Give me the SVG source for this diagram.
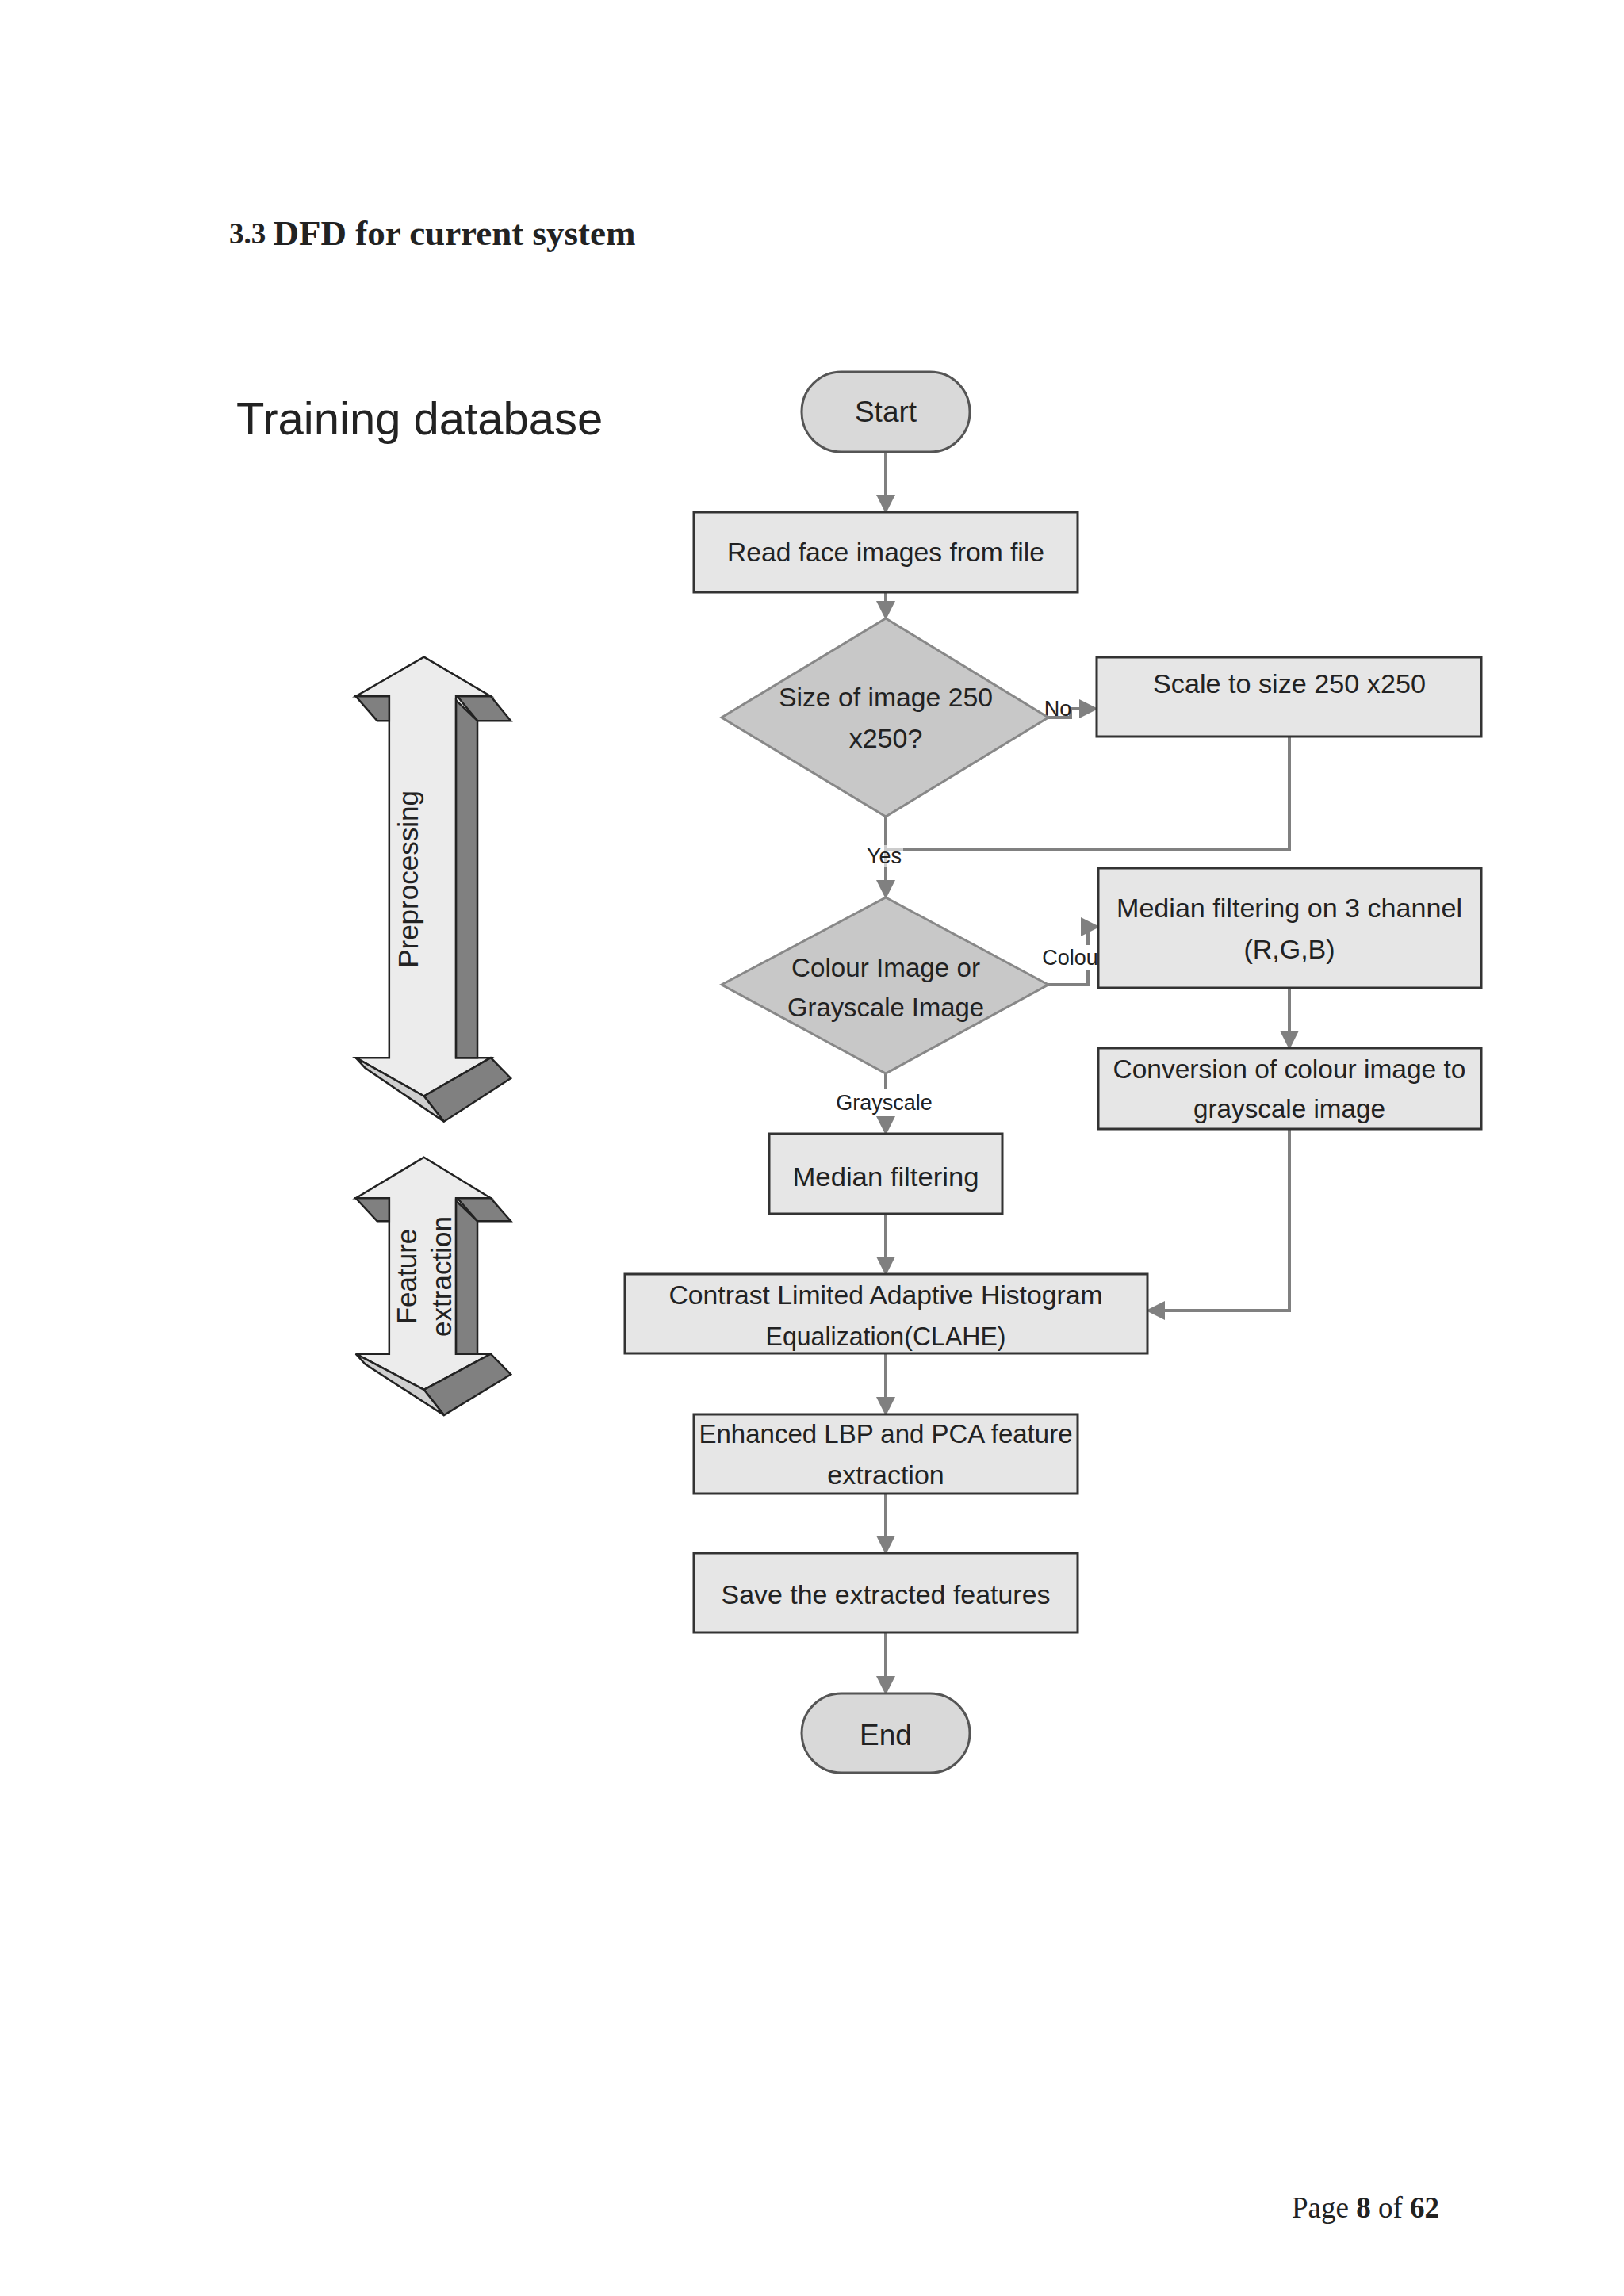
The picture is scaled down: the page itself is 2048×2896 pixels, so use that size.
<svg xmlns="http://www.w3.org/2000/svg" width="2048" height="2896" viewBox="0 0 2048 2896">
<style>
text{font-family:"Liberation Sans",Arial,sans-serif;fill:#222}
.t{font-size:34px;text-anchor:middle;dominant-baseline:central}
.l{font-size:27px;text-anchor:middle;dominant-baseline:central}
.box{fill:#e6e6e6;stroke:#333;stroke-width:3}
.dia{fill:#c8c8c8;stroke:#888;stroke-width:3}
.term{fill:#d9d9d9;stroke:#555;stroke-width:3}
.c{fill:none;stroke:#808080;stroke-width:4}
.lt{fill:#ececec;stroke:#222;stroke-width:2.5}
.dk{fill:#808080;stroke:#222;stroke-width:2.5}
</style>
<defs>
<marker id="ah" markerWidth="6" markerHeight="6" refX="5" refY="3" orient="auto" markerUnits="strokeWidth"><path d="M0,0 L6,3 L0,6 z" fill="#808080"/></marker>
</defs>
<rect width="2048" height="2896" fill="#fff"/>
<text x="289" y="294" style="font-family:'Liberation Serif',serif;font-weight:bold;font-size:45px;dominant-baseline:central"><tspan font-size="37">3.3 </tspan>DFD for current system</text>
<text x="298" y="527" style="font-size:58px;dominant-baseline:central" fill="#333">Training database</text>

<g id="arrow-pre" transform="translate(403.2,806.1) scale(0.337,0.644)">
<path class="lt" vector-effect="non-scaling-stroke" d="M390,35 L640,112 L510,112 L510,820 L640,820 L390,895 L135,820 L260,820 L260,112 L135,112 Z"/>
<path class="dk" vector-effect="non-scaling-stroke" d="M135,112 L260,112 L260,160 L215,160 Z"/>
<path class="dk" vector-effect="non-scaling-stroke" d="M515,112 L640,112 L715,160 L590,160 Z"/>
<path class="dk" vector-effect="non-scaling-stroke" d="M510,120 L590,160 L590,820 L510,820 Z"/>
<path class="dk" vector-effect="non-scaling-stroke" d="M390,895 L640,820 L715,860 L465,945 Z"/>
<path class="lt" vector-effect="non-scaling-stroke" d="M135,820 L390,895 L465,945 L170,840 Z" style="fill:#cfcfcf"/>
</g>
<text transform="translate(514,1109) rotate(-90)" style="font-size:35px;text-anchor:middle;dominant-baseline:central">Preprocessing</text>

<g id="arrow-feat" transform="translate(403.2,806.1) scale(0.337,0.644)">
<path class="lt" vector-effect="non-scaling-stroke" d="M390,1015 L640,1095 L510,1095 L510,1400 L640,1400 L390,1470 L135,1400 L260,1400 L260,1095 L135,1095 Z"/>
<path class="dk" vector-effect="non-scaling-stroke" d="M135,1095 L260,1095 L260,1140 L215,1140 Z"/>
<path class="dk" vector-effect="non-scaling-stroke" d="M515,1095 L640,1095 L715,1140 L590,1140 Z"/>
<path class="dk" vector-effect="non-scaling-stroke" d="M510,1100 L590,1140 L590,1400 L510,1400 Z"/>
<path class="dk" vector-effect="non-scaling-stroke" d="M390,1470 L640,1400 L715,1440 L465,1520 Z"/>
<path class="lt" vector-effect="non-scaling-stroke" d="M135,1400 L390,1470 L465,1520 L170,1420 Z" style="fill:#cfcfcf"/>
</g>
<text transform="translate(512,1610) rotate(-90)" style="font-size:35px;text-anchor:middle;dominant-baseline:central">Feature</text>
<text transform="translate(556,1610) rotate(-90)" style="font-size:35px;text-anchor:middle;dominant-baseline:central">extraction</text>

<g id="connectors">
<path class="c" marker-end="url(#ah)" d="M1117,570 V644"/>
<path class="c" marker-end="url(#ah)" d="M1117,747 V778"/>
<path class="c" marker-end="url(#ah)" d="M1322,905 H1350 V894 H1381"/>
<path class="c" marker-end="url(#ah)" d="M1117,1030 V1130"/>
<path class="c" d="M1626,929 V1071 H1117"/>
<path class="c" marker-end="url(#ah)" d="M1322,1242 H1372 V1169 H1383"/>
<path class="c" marker-end="url(#ah)" d="M1626,1246 V1320"/>
<path class="c" marker-end="url(#ah)" d="M1117,1354 V1428"/>
<path class="c" marker-end="url(#ah)" d="M1117,1531 V1605"/>
<path class="c" marker-end="url(#ah)" d="M1626,1424 V1653 H1449"/>
<path class="c" marker-end="url(#ah)" d="M1117,1707 V1782"/>
<path class="c" marker-end="url(#ah)" d="M1117,1884 V1957"/>
<path class="c" marker-end="url(#ah)" d="M1117,2059 V2134"/>
<text class="l" x="1334" y="894">No</text>
<rect x="1095" y="1066" width="44" height="28" fill="#fff" opacity="0.6"/>
<text class="l" x="1115" y="1080">Yes</text>
<rect x="1312" y="1192" width="84" height="32" fill="#fff"/>
<text class="l" x="1354" y="1208">Colour</text>
<rect x="1052" y="1374" width="126" height="34" fill="#fff"/>
<text class="l" x="1115" y="1391">Grayscale</text>
</g>

<g id="start"><rect class="term" x="1011" y="469" width="212" height="101" rx="50"/><text class="t" x="1117" y="519" style="font-size:37px">Start</text></g>
<g id="read"><rect class="box" x="875" y="646" width="484" height="101"/><text class="t" x="1117" y="696" textLength="400" lengthAdjust="spacingAndGlyphs">Read face images from file</text></g>
<g id="size"><polygon class="dia" points="1117,780 1322,905 1117,1030 910,905"/><text class="t" x="1117" y="879" textLength="270" lengthAdjust="spacingAndGlyphs">Size of image 250</text><text class="t" x="1117" y="931">x250?</text></g>
<g id="scale"><rect class="box" x="1383" y="829" width="485" height="100"/><text class="t" x="1626" y="862" textLength="344" lengthAdjust="spacingAndGlyphs">Scale to size 250 x250</text></g>
<g id="colour"><polygon class="dia" points="1117,1132 1322,1242 1117,1354 910,1242"/><text class="t" x="1117" y="1220" textLength="238" lengthAdjust="spacingAndGlyphs">Colour Image or</text><text class="t" x="1117" y="1270" textLength="248" lengthAdjust="spacingAndGlyphs">Grayscale Image</text></g>
<g id="median3"><rect class="box" x="1385" y="1095" width="483" height="151"/><text class="t" x="1626" y="1145" textLength="436" lengthAdjust="spacingAndGlyphs">Median filtering on 3 channel</text><text class="t" x="1626" y="1197">(R,G,B)</text></g>
<g id="conversion"><rect class="box" x="1385" y="1322" width="483" height="102"/><text class="t" x="1626" y="1348" textLength="445" lengthAdjust="spacingAndGlyphs">Conversion of colour image to</text><text class="t" x="1626" y="1398" textLength="242" lengthAdjust="spacingAndGlyphs">grayscale image</text></g>
<g id="median"><rect class="box" x="970" y="1430" width="294" height="101"/><text class="t" x="1117" y="1484" textLength="235" lengthAdjust="spacingAndGlyphs">Median filtering</text></g>
<g id="clahe"><rect class="box" x="788" y="1607" width="659" height="100"/><text class="t" x="1117" y="1633" textLength="547" lengthAdjust="spacingAndGlyphs">Contrast Limited Adaptive Histogram</text><text class="t" x="1117" y="1685" textLength="303" lengthAdjust="spacingAndGlyphs">Equalization(CLAHE)</text></g>
<g id="enhanced"><rect class="box" x="875" y="1784" width="484" height="100"/><text class="t" x="1117" y="1808" textLength="471" lengthAdjust="spacingAndGlyphs">Enhanced LBP and PCA feature</text><text class="t" x="1117" y="1860">extraction</text></g>
<g id="save"><rect class="box" x="875" y="1959" width="484" height="100"/><text class="t" x="1117" y="2011" textLength="415" lengthAdjust="spacingAndGlyphs">Save the extracted features</text></g>
<g id="end"><rect class="term" x="1011" y="2136" width="212" height="100" rx="50"/><text class="t" x="1117" y="2188" style="font-size:37px">End</text></g>

<text x="1815" y="2784" style="font-family:'Liberation Serif',serif;font-size:37px;text-anchor:end;dominant-baseline:central">Page <tspan font-weight="bold">8</tspan> of <tspan font-weight="bold">62</tspan></text>
</svg>
